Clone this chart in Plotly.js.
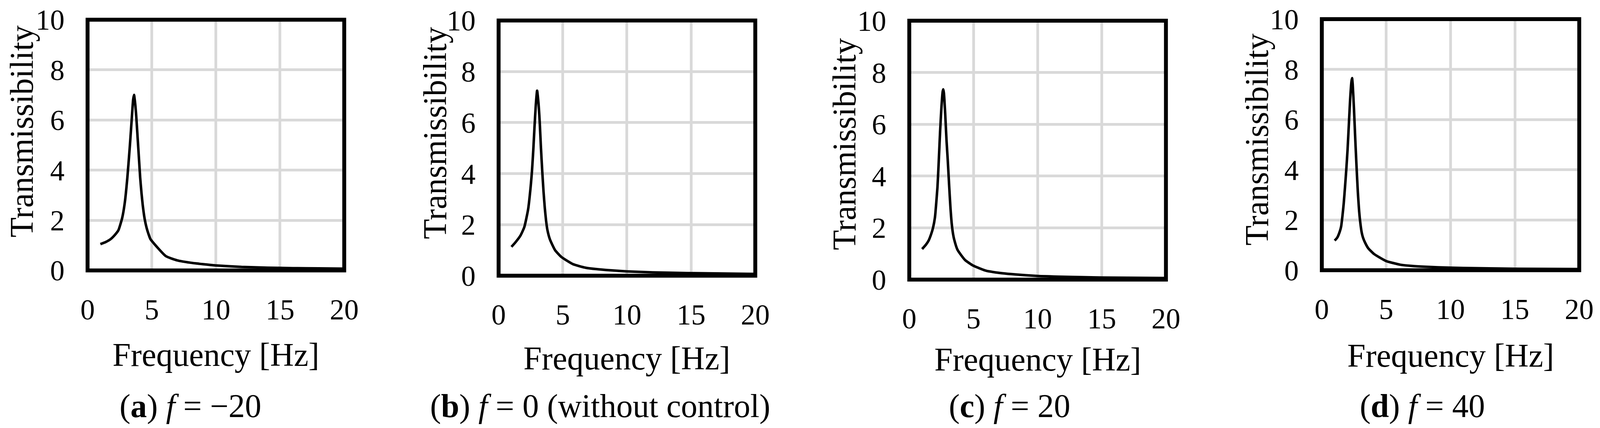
<!DOCTYPE html>
<html>
<head>
<meta charset="utf-8">
<script src="https://cdn.plot.ly/plotly-3.0.1.min.js"></script>
<style>
html,body{margin:0;padding:0;background:#ffffff;overflow:hidden;}
</style>
</head>
<body>
<div id="chart"></div>
<script>
// ---------------- data ----------------
const freqA  = [1.0, 1.4, 1.8, 2.1, 2.4, 2.7, 2.9, 3.1, 3.3, 3.45, 3.55, 3.62, 3.7, 3.8, 3.9, 4.0, 4.1, 4.2, 4.3, 4.45, 4.6, 4.75, 4.9, 6.1, 7.0, 8.0, 9.0, 10.0, 12.0, 14.0, 16.0, 18.0, 20.0];
const transA = [1.05, 1.13, 1.25, 1.40, 1.60, 2.10, 2.70, 3.70, 5.00, 6.10, 6.80, 7.00, 6.70, 6.10, 5.30, 4.50, 3.70, 3.10, 2.60, 2.05, 1.70, 1.45, 1.25, 0.57, 0.40, 0.31, 0.25, 0.20, 0.14, 0.11, 0.09, 0.08, 0.07];

const freqB  = [1.0, 1.3, 1.7, 2.0, 2.3, 2.5, 2.6, 2.7, 2.8, 2.9, 3.0, 3.1, 3.2, 3.3, 3.4, 3.5, 3.6, 3.7, 3.8, 4.0, 4.4, 4.9, 5.8, 6.8, 8.0, 10.0, 12.0, 15.0, 20.0];
const transB = [1.13, 1.30, 1.57, 1.90, 2.60, 3.50, 4.10, 4.90, 5.85, 6.70, 7.25, 6.80, 6.05, 5.00, 4.10, 3.30, 2.65, 2.15, 1.80, 1.42, 1.00, 0.73, 0.45, 0.31, 0.24, 0.17, 0.13, 0.10, 0.07];

const freqC  = [1.0, 1.3, 1.5, 1.7, 1.85, 2.0, 2.2, 2.3, 2.4, 2.5, 2.6, 2.65, 2.7, 2.8, 2.9, 3.0, 3.1, 3.2, 3.3, 3.4, 3.5, 3.76, 4.34, 4.98, 6.0, 7.0, 8.0, 10.0, 12.0, 15.0, 20.0];
const transC = [1.18, 1.35, 1.50, 1.75, 2.00, 2.40, 3.60, 4.60, 5.70, 6.60, 7.25, 7.35, 7.20, 6.40, 5.40, 4.60, 3.70, 2.85, 2.20, 1.80, 1.55, 1.15, 0.76, 0.54, 0.34, 0.26, 0.21, 0.14, 0.11, 0.08, 0.06];

const freqD  = [1.0, 1.2, 1.4, 1.5, 1.6, 1.7, 1.8, 1.9, 2.0, 2.1, 2.2, 2.3, 2.35, 2.4, 2.5, 2.6, 2.7, 2.8, 2.9, 3.0, 3.1, 3.2, 3.36, 3.6, 4.05, 4.98, 6.1, 7.0, 8.0, 10.0, 12.0, 15.0, 20.0];
const transD = [1.18, 1.30, 1.55, 1.74, 2.15, 2.65, 3.30, 4.00, 4.80, 5.80, 6.80, 7.50, 7.65, 7.40, 6.40, 5.20, 4.10, 3.10, 2.35, 1.85, 1.50, 1.30, 1.10, 0.88, 0.65, 0.37, 0.22, 0.17, 0.14, 0.10, 0.08, 0.06, 0.045];

const captions = [
  '(<b>a</b>) <i>f</i> = \u221220',
  '(<b>b</b>) <i>f</i> = 0 (without control)',
  '(<b>c</b>) <i>f</i> = 20',
  '(<b>d</b>) <i>f</i> = 40'
];
const xTitleText = 'Frequency [Hz]';
const yTitleText = 'Transmissibility';
const xTickVals = [0, 5, 10, 15, 20];
const yTickVals = [0, 2, 4, 6, 8, 10];

// ---------------- layout geometry (reference pixels, 4239 x 1096) ----------------
const W = 4239, H = 1096;
// the page is drawn into whatever width the window really has; all x positions are fractions of W
const VW = Math.min(window.innerWidth || W, W);
const boxes = [
  {l: 232,  r: 912,  t: 50.5, b: 692.5, capX: 505,  yTitX: 57,   yTitY: 337, xTitY: 908},
  {l: 1321, r: 2001, t: 52.5, b: 706,   capX: 1590, yTitX: 1152, yTitY: 341, xTitY: 917},
  {l: 2409, r: 3089, t: 53,   b: 716,   capX: 2675, yTitX: 2236, yTitY: 369, xTitY: 920},
  {l: 3502, r: 4184, t: 49,   b: 692,   capX: 3768, yTitX: 3329, yTitY: 357, xTitY: 910}
];
const capY = 1040;

const FONT = 'Liberation Serif, Times New Roman, serif';
const series = [[freqA, transA], [freqB, transB], [freqC, transC], [freqD, transD]];

const traces = [];
const layout = {
  width: VW, height: H,
  margin: {l: 0, r: 0, t: 0, b: 0, pad: 0},
  paper_bgcolor: '#ffffff',
  plot_bgcolor: '#ffffff',
  showlegend: false,
  font: {family: FONT, color: '#000000', size: 74},
  shapes: [],
  annotations: []
};

boxes.forEach((bx, i) => {
  const n = i === 0 ? '' : String(i + 1);
  traces.push({
    type: 'scatter', mode: 'lines',
    x: series[i][0], y: series[i][1],
    xaxis: 'x' + n, yaxis: 'y' + n,
    line: {color: '#000000', width: 6.5, shape: 'spline', smoothing: 0.5},
    hoverinfo: 'skip'
  });
  layout['xaxis' + n] = {
    domain: [bx.l / W, bx.r / W],
    anchor: 'y' + n,
    range: [0, 20],
    tickvals: xTickVals,
    ticktext: xTickVals.map(String),
    ticks: '',
    ticklabelstandoff: 50,
    showline: false,
    zeroline: false,
    showgrid: true,
    gridcolor: '#d9d9d9',
    gridwidth: 7,
    tickfont: {family: FONT, size: 74, color: '#000000'},
    automargin: false,
    fixedrange: true
  };
  layout['yaxis' + n] = {
    domain: [1 - bx.b / H, 1 - bx.t / H],
    anchor: 'x' + n,
    range: [0, 10],
    tickvals: yTickVals,
    ticktext: yTickVals.map(String),
    ticks: '',
    ticklabelstandoff: 58,
    showline: false,
    zeroline: false,
    showgrid: true,
    gridcolor: '#d9d9d9',
    gridwidth: 7,
    tickfont: {family: FONT, size: 74, color: '#000000'},
    automargin: false,
    fixedrange: true
  };
  layout.shapes.push({
    type: 'rect', xref: 'x' + n + ' domain', yref: 'y' + n + ' domain',
    x0: 0, x1: 1, y0: 0, y1: 1,
    line: {color: '#000000', width: 10}, fillcolor: 'rgba(0,0,0,0)', layer: 'above'
  });
  layout.annotations.push({
    xref: 'paper', yref: 'paper',
    x: ((bx.l + bx.r) / 2) / W, y: 1 - bx.xTitY / H,
    xanchor: 'center', yanchor: 'middle',
    text: xTitleText, showarrow: false,
    font: {family: FONT, size: 84, color: '#000000'}
  });
  layout.annotations.push({
    xref: 'paper', yref: 'paper',
    x: bx.yTitX / W, y: 1 - bx.yTitY / H,
    xanchor: 'center', yanchor: 'middle',
    text: yTitleText, textangle: -90, showarrow: false,
    font: {family: FONT, size: 84, color: '#000000'}
  });
  layout.annotations.push({
    xref: 'paper', yref: 'paper',
    x: bx.capX / W, y: 1 - capY / H,
    xanchor: 'center', yanchor: 'middle',
    text: captions[i], showarrow: false,
    font: {family: FONT, size: 84, color: '#000000'}
  });
});

Plotly.newPlot('chart', traces, layout, {displayModeBar: false, staticPlot: true});
</script>
</body>
</html>
